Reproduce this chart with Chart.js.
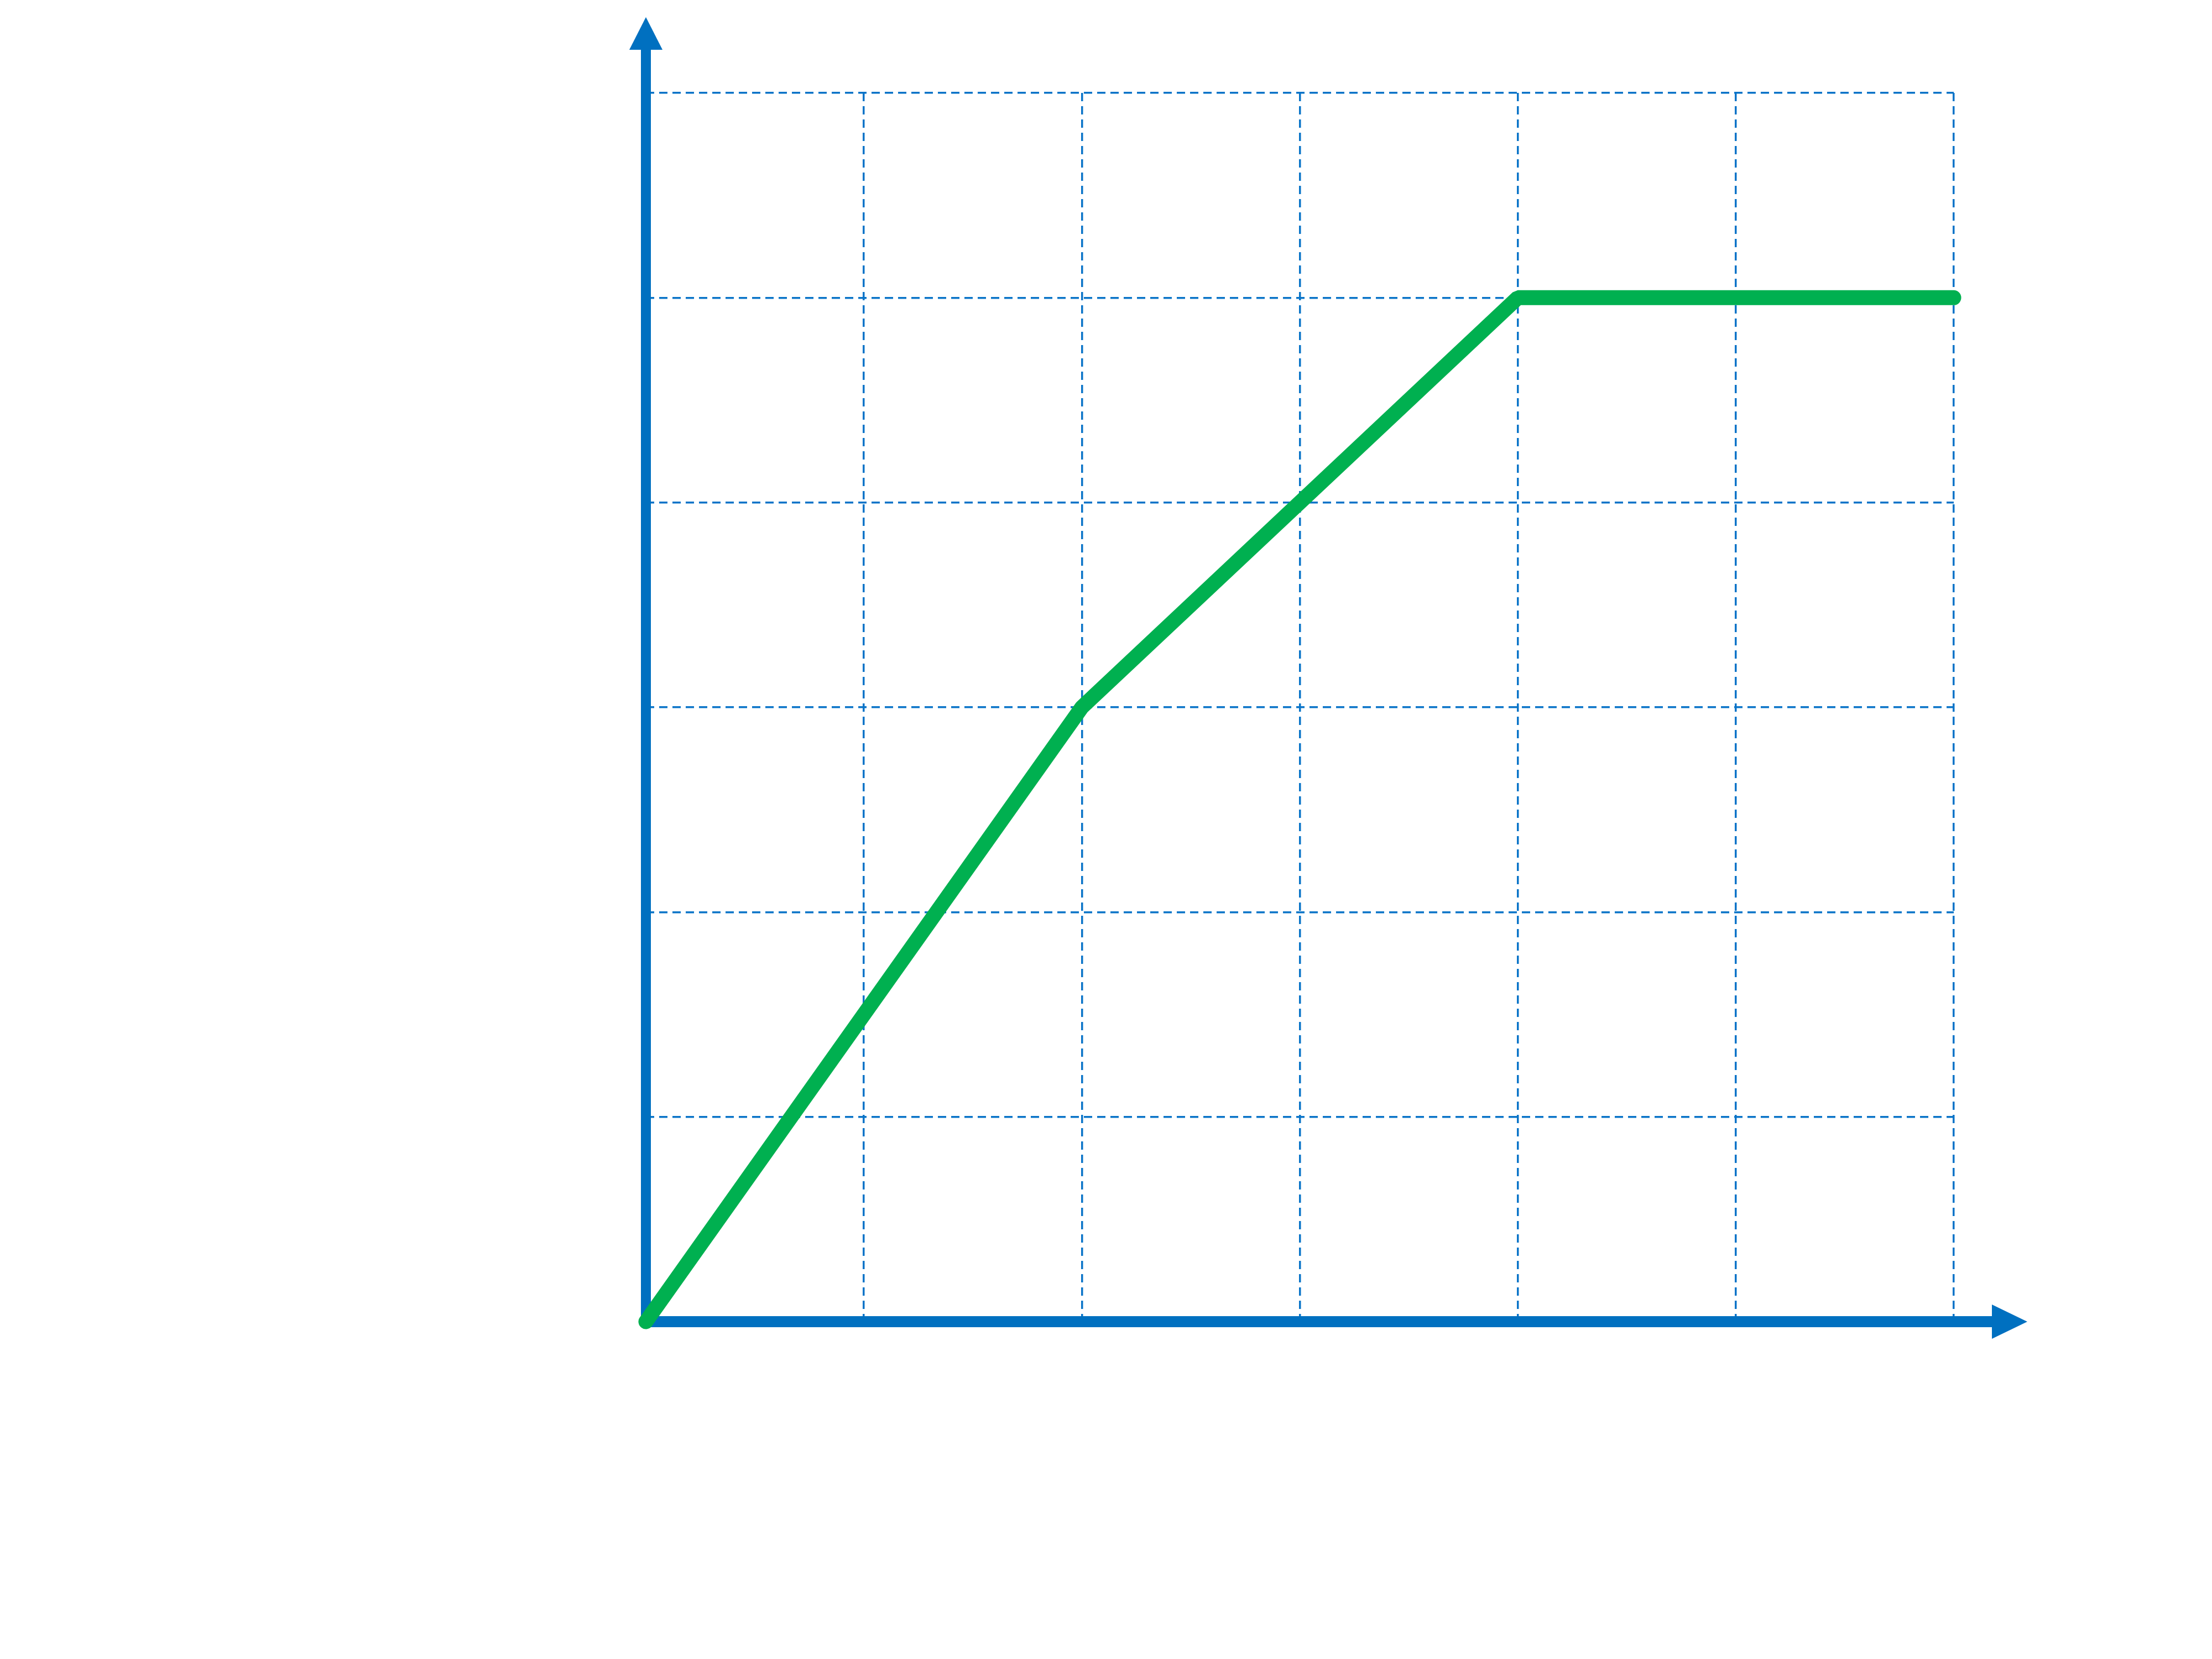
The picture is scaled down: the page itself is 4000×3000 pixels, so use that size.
<!DOCTYPE html>
<html>
<head>
<meta charset="utf-8">
<script src="https://cdn.jsdelivr.net/npm/chart.js@4/dist/chart.umd.min.js"></script>
<style>
html,body{margin:0;padding:0;background:#fff;}
#wrap{width:4000px;height:3000px;position:relative;}
</style>
</head>
<body>
<div id="wrap"><canvas id="c" width="4000" height="3000"></canvas></div>
<script>
// Data
const xValues = [0, 2, 4, 6];
const yValues = [0, 3, 5, 5];
const xRange = [0, 6];
const yRange = [0, 6];

const AXIS = '#0070C0';
const GRID = '#0A74C8';
const LINE = '#00B050';

const axesPlugin = {
  id: 'arrowAxes',
  beforeDatasetsDraw(chart) {
    const ctx = chart.ctx;
    const xs = chart.scales.x, ys = chart.scales.y;
    const x0 = xs.getPixelForValue(xRange[0]);
    const x1 = xs.getPixelForValue(xRange[1]);
    const y0 = ys.getPixelForValue(yRange[0]);
    const y1 = ys.getPixelForValue(yRange[1]);
    ctx.save();
    ctx.fillStyle = AXIS;
    const yw = 18, xw = 20;
    // y axis line
    ctx.fillRect(x0 - yw / 2, y1 - 80, yw, (y0 + xw / 2) - (y1 - 80));
    // y arrow head
    ctx.beginPath();
    ctx.moveTo(x0, y1 - 137);
    ctx.lineTo(x0 - 30, y1 - 78);
    ctx.lineTo(x0 + 30, y1 - 78);
    ctx.closePath();
    ctx.fill();
    // x axis line
    ctx.fillRect(x0 - yw / 2, y0 - xw / 2, (x1 + 72) - (x0 - yw / 2), xw);
    // x arrow head
    ctx.beginPath();
    ctx.moveTo(x1 + 133, y0);
    ctx.lineTo(x1 + 69, y0 - 31);
    ctx.lineTo(x1 + 69, y0 + 31);
    ctx.closePath();
    ctx.fill();
    ctx.restore();
  }
};

new Chart(document.getElementById('c'), {
  type: 'line',
  data: {
    datasets: [{
      data: xValues.map((x, i) => ({ x: x, y: yValues[i] })),
      borderColor: LINE,
      borderWidth: 27,
      borderCapStyle: 'round',
      borderJoinStyle: 'bevel',
      pointRadius: 0,
      fill: false,
      tension: 0,
      clip: false
    }]
  },
  options: {
    responsive: false,
    animation: false,
    devicePixelRatio: 1,
    layout: { padding: { left: 1168, right: 467, top: 168, bottom: 610 } },
    plugins: { legend: { display: false }, tooltip: { enabled: false } },
    scales: {
      x: {
        type: 'linear', min: xRange[0], max: xRange[1],
        ticks: { display: false, stepSize: 1 },
        grid: { color: GRID, lineWidth: 3.5, drawTicks: false },
        border: { display: false, dash: [15, 9] }
      },
      y: {
        type: 'linear', min: yRange[0], max: yRange[1],
        ticks: { display: false, stepSize: 1 },
        grid: { color: GRID, lineWidth: 3.5, drawTicks: false },
        border: { display: false, dash: [15, 9] }
      }
    }
  },
  plugins: [axesPlugin]
});
</script>
</body>
</html>
